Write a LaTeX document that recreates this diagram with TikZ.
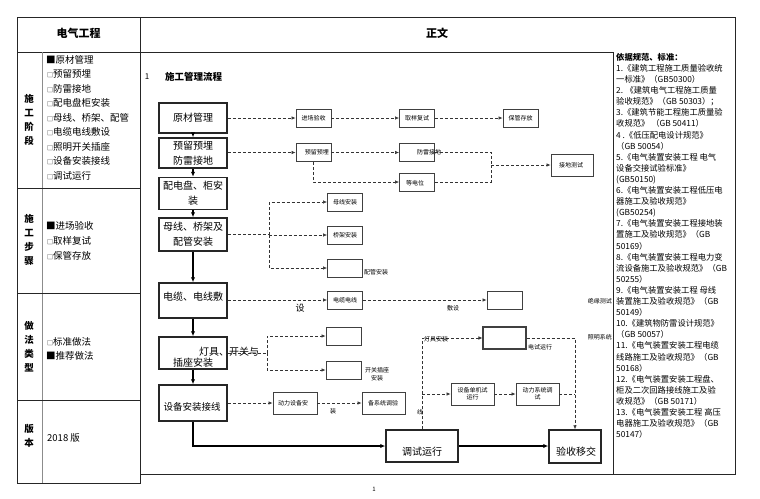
\documentclass[tikz,border=0pt]{standalone}
\usepackage{fontspec}
\setmainfont{Noto Sans CJK SC}
\usetikzlibrary{arrows.meta}
\begin{document}
\begin{tikzpicture}[x=1pt,y=-1pt,
  mainbox/.style={draw=black!85, line width=1.5pt, minimum width=68pt, inner sep=1pt, align=center, font=\fontsize{10}{15}\selectfont},
  subbox/.style={draw=black!75, line width=0.9pt, minimum width=35pt, minimum height=18pt, inner sep=1pt, font=\fontsize{6}{7}\selectfont},
  mainarrow/.style={line width=1.2pt, -{Latex[length=5pt,width=4.5pt]}},
  dasharrow/.style={densely dashed, line width=0.6pt, black!80, -{Latex[length=4pt,width=3.5pt]}},
  dashline/.style={densely dashed, line width=0.6pt, black!80},
  small/.style={font=\fontsize{6}{7.5}\selectfont, inner sep=0pt},
  btxt/.style={font=\fontsize{10}{12}\selectfont, inner sep=0pt},
  item/.style={font=\fontsize{9.5}{11}\selectfont, anchor=west, inner sep=0pt},
  vlab/.style={font=\fontsize{9.5}{14}\selectfont\bfseries, align=center, inner sep=0pt},
  tline/.style={line width=1pt, black!85}
]
\useasboundingbox (0,0) rectangle (760,498);
% ---------- table ----------
\draw[tline] (17,483) -- (17,17) -- (735,17) -- (735,474) -- (140,474);
\draw[tline] (17,483) -- (140,483) -- (140,17);
\draw[tline] (17,52) -- (613,52);
\draw[tline] (613,52) -- (613,474);
\draw[line width=1pt, black!45] (42,52) -- (42,483);
\draw[tline] (17,188) -- (140,188);
\draw[tline] (17,293) -- (140,293);
\draw[tline] (17,400) -- (140,400);
\node[font=\fontsize{11}{13}\selectfont\bfseries] (h1) at (78.5,33) {电气工程};
\node[font=\fontsize{11}{13}\selectfont\bfseries] (h2) at (437,33) {正文};
% left column labels
\node[vlab] (v1) at (29,120) {施\\工\\阶\\段};
\node[vlab] (v2) at (29,240) {施\\工\\步\\骤};
\node[vlab] (v3) at (29,347) {做\\法\\类\\型};
\node[vlab] (v4) at (29,436) {版\\本};
\newcommand{\sq}{{\fontsize{6}{6}\selectfont □}}
\node[item] (i1) at (46,60) {■原材管理};
\node[item] (i2) at (47,74) {\sq 预留预埋};
\node[item] (i3) at (47,88.5) {\sq 防雷接地};
\node[item] (i4) at (47,103) {\sq 配电盘柜安装};
\node[item] (i5) at (47,117.5) {\sq 母线、桥架、配管};
\node[item] (i6) at (47,132) {\sq 电缆电线敷设};
\node[item] (i7) at (47,146.5) {\sq 照明开关插座};
\node[item] (i8) at (47,161) {\sq 设备安装接线};
\node[item] (i9) at (47,175.5) {\sq 调试运行};
\node[item] (j1t) at (46,226) {■进场验收};
\node[item] (j2t) at (47,241) {\sq 取样复试};
\node[item] (j3t) at (47,256) {\sq 保管存放};
\node[item] (k1t) at (47,342) {\sq 标准做法};
\node[item] (k2t) at (46,356) {■推荐做法};
\node[item] (l1t) at (47,438) {2018 版};
% right column
\node[anchor=north west, inner sep=0pt, align=left, font=\fontsize{8.3}{11.1}\selectfont] (refs) at (616,53) {%
\textbf{依据规范、标准：}\\
1.《建筑工程施工质量验收统\\
一标准》（GB50300）\\
2. 《建筑电气工程施工质量\\
验收规范》（GB 50303）；\\
3.《建筑节能工程施工质量验\\
收规范》 （GB 50411）\\
4 .《低压配电设计规范》\\
（GB 50054）\\
5.《电气装置安装工程 电气\\
设备交接试验标准》\\
(GB50150)\\
6.《电气装置安装工程低压电\\
器施工及验收规范》\\
(GB50254)\\
7.《电气装置安装工程接地装\\
置施工及验收规范》（GB\\
50169）\\
8.《电气装置安装工程电力变\\
流设备施工及验收规范》（GB\\
50255）\\
9.《电气装置安装工程 母线\\
装置施工及验收规范》（GB\\
50149）\\
10.《建筑物防雷设计规范》\\
（GB 50057）\\
11.《电气装置安装工程电缆\\
线路施工及验收规范》（GB\\
50168）\\
12.《电气装置安装工程盘、\\
柜及二次回路接线施工及验\\
收规范》（GB 50171）\\
13.《电气装置安装工程 高压\\
电器施工及验收规范》（GB\\
50147）};
% title
\node[font=\fontsize{8}{10}\selectfont, inner sep=0pt] (tn) at (147,77) {1};
\node[font=\fontsize{9.5}{11}\selectfont\bfseries, anchor=west, inner sep=0pt] (tt) at (165,77) {施工管理流程};
\node[font=\fontsize{6}{7}\selectfont, inner sep=0pt] (pg) at (374,489) {1};
% ---------- main flow ----------
\node[mainbox, minimum height=30pt] (m1) at (193,118) {原材管理};
\node[mainbox, minimum height=30pt] (m2) at (193,153) {预留预埋\\防雷接地};
\node[mainbox, minimum height=32pt] (m3) at (193,193.5) {配电盘、柜安\\装};
\node[mainbox, minimum height=33pt] (m4) at (193,234.5) {母线、桥架及\\配管安装};
\node[mainbox, minimum height=35pt] (m5) at (193,300.5) {};
\node[btxt] (m5t) at (193,297) {电缆、电线敷};
\node[mainbox, minimum height=32pt] (m6) at (193,353) {};
\node[btxt, anchor=west] (m6a) at (199,352) {灯具、开关与};
\node[btxt] (m6b) at (193,363) {插座安装};
\node[mainbox, minimum height=36pt] (m7) at (193,403) {};
\node[btxt, font=\fontsize{9.5}{11}\selectfont] (m7t) at (192,407) {设备安装接线};
\node[mainbox, minimum width=72pt, minimum height=32pt] (m8) at (422,446) {};
\node[btxt] (m8t) at (422,452) {调试运行};
\node[mainbox, minimum width=52pt, minimum height=33pt] (m9) at (575,446.5) {};
\node[btxt] (m9t) at (576,452) {验收移交};
\draw[mainarrow] (m1) -- (m2);
\draw[mainarrow] (m2) -- (m3);
\draw[mainarrow] (m3) -- (m4);
\draw[mainarrow] (m4) -- (m5);
\draw[mainarrow] (m5) -- (m6);
\draw[mainarrow] (m6) -- (m7);
\draw[mainarrow] (m7.south) |- (m8.west);
\draw[mainarrow] (m8.east) -- (m8.east -| m9.west);
% ---------- row 1 ----------
\node[subbox] (a1) at (313.5,118) {进场验收};
\node[subbox] (a2) at (417,118) {取样复试};
\node[subbox] (a3) at (520.5,118) {保管存放};
\draw[dasharrow] (m1.east) -- (a1.west);
\draw[dasharrow] (a1.east) -- (a2.west);
\draw[dasharrow] (a2.east) -- (a3.west);
% ---------- row 2 ----------
\node[subbox] (b1) at (313.5,152.5) {};
\node[small, anchor=east] (b1t) at (329,152.5) {预留预埋};
\node[subbox] (b2) at (417,152.5) {};
\node[small] (b2t) at (429,152.5) {防雷接地};
\node[subbox] (b3) at (417,182) {};
\node[small] (b3t) at (415,183) {等电位};
\node[subbox, minimum width=42pt, minimum height=22pt] (b4) at (572,165) {};
\node[small] (b4t) at (571,165) {接地测试};
\coordinate (jb) at (491,165);
\draw[dasharrow] (m2.east |- b1.west) -- (b1.west);
\draw[dasharrow] (b1.east) -- (b2.west);
\draw[dasharrow] (b1.south) |- (b3.west);
\draw[dashline] (b2.east) -| (jb);
\draw[dashline] (b3.east) -| (jb);
\draw[dasharrow] (jb) -- (b4.west);
% ---------- row 3 ----------
\coordinate (jc) at (269,234.5);
\node[subbox] (c1) at (345,202) {母线安装};
\node[subbox] (c2) at (345,235) {桥架安装};
\node[subbox] (c3) at (345,268) {};
\node[small, anchor=west] (c3t) at (364,272) {配管安装};
\draw[dashline] (m4.east) -- (jc);
\draw[dasharrow] (jc) |- (c1.west);
\draw[dasharrow] (jc) |- (c2.west);
\draw[dasharrow] (jc) |- (c3.west);
% ---------- row 4 ----------
\node[subbox] (d1) at (345,300) {电缆电线};
\node[subbox] (d2) at (504.5,300) {};
\node[btxt, font=\fontsize{9}{10}\selectfont] (d0t) at (300,308) {设};
\node[small] (d2t) at (453,308) {敷设};
\node[small, anchor=east] (d3t) at (612,301) {绝缘测试};
\draw[dasharrow] (m5.east |- d1.west) -- (d1.west);
\draw[dasharrow] (d1.east) -- (d2.west);
% ---------- row 5 ----------
\coordinate (je) at (267,353);
\node[subbox] (e1) at (343.5,336) {};
\node[subbox] (e2) at (343.5,370) {};
\node[small, align=center] (e2t) at (377,374) {开关插座\\安装};
\draw[dashline] (m6.east) -- (je);
\draw[dasharrow] (je) |- (e1.west);
\draw[dasharrow] (je) |- (e2.west);
% ---------- row 6 ----------
\node[subbox, minimum width=44pt, minimum height=22pt] (f1) at (295,403) {};
\node[small, anchor=west] (f1t) at (278,403) {动力设备安};
\node[subbox, minimum width=43pt, minimum height=22pt] (f2) at (383.5,403) {};
\node[small, anchor=west] (f2t) at (368,403) {备系统调验};
\node[small] (f3t) at (333,411) {装};
\draw[dasharrow] (m7.east) -- (f1.west);
\draw[dasharrow] (f1.east) -- (f2.west);
% ---------- test branch ----------
\node[subbox, minimum width=43pt, minimum height=22pt, line width=1.1pt] (g1) at (504.5,338) {};
\node[subbox, minimum width=43pt, minimum height=22pt, align=center] (g2) at (472.5,394) {设备单机试\\运行};
\node[subbox, minimum width=43pt, minimum height=22pt, align=center] (g3) at (537.5,394) {动力系统调\\试};
\coordinate (jg) at (422,394);
\coordinate (jh) at (575,394);
\draw[dasharrow] (m8.north) |- (g1.west);
\draw[dasharrow] (jg) -- (g2.west);
\draw[dasharrow] (g2.east) -- (g3.west);
\draw[dashline] (g3.east) -- (jh);
\draw[dasharrow] (g1.east) -| (m9.north);
\node[small, anchor=west] (g1l) at (424,339.5) {灯具安装};
\node[small] (g1r) at (540,347) {电试运行};
\node[small, anchor=east] (g1s) at (612,337) {照明系统};
\node[small] (g2l) at (420,412) {线};
\end{tikzpicture}
\end{document}
